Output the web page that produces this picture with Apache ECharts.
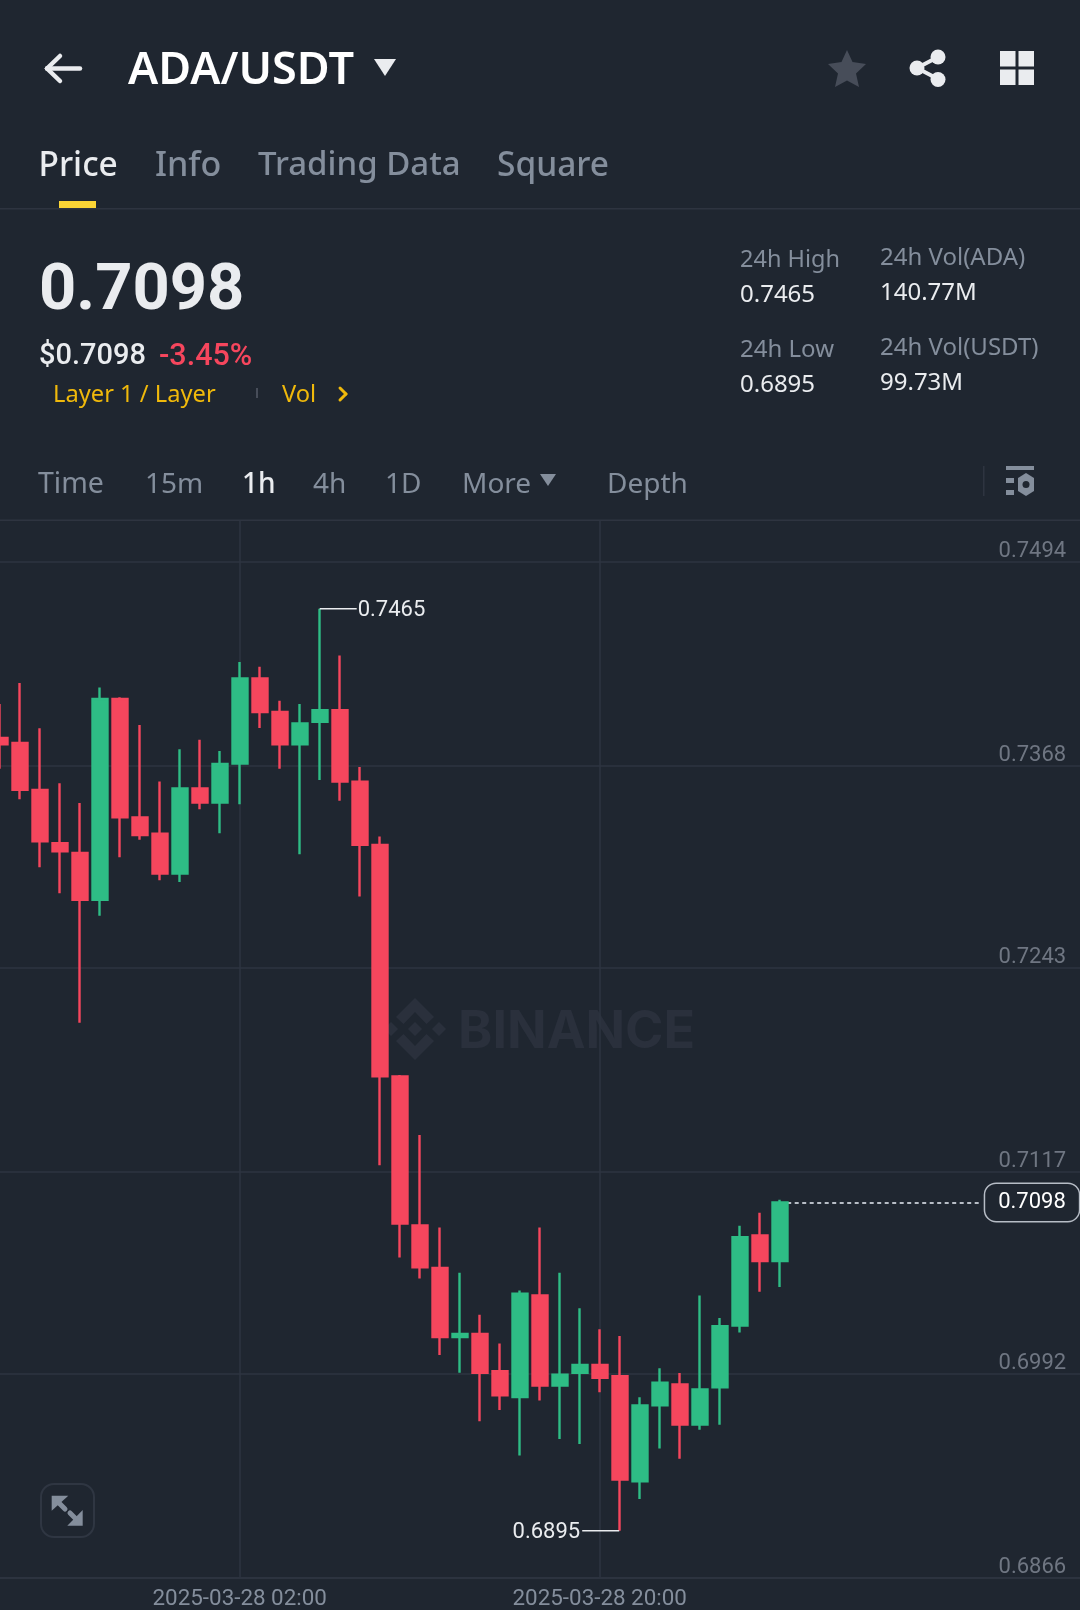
<!DOCTYPE html>
<html>
<head>
<meta charset="utf-8">
<title>ADA/USDT</title>
<script src="https://cdn.jsdelivr.net/npm/echarts@6/dist/echarts.min.js"></script>
<style>
html, body { margin: 0; padding: 0; background: #1f2630; }
#box { width: 1080px; height: 1610px; }
</style>
</head>
<body>
<div id="box"></div>
<script>
// hourly candles, oldest first
var categories = [
    '03-27 14:00', '03-27 15:00', '03-27 16:00', '03-27 17:00', '03-27 18:00', '03-27 19:00', '03-27 20:00', '03-27 21:00',
    '03-27 22:00', '03-27 23:00', '03-28 00:00', '03-28 01:00', '2025-03-28 02:00', '03-28 03:00', '03-28 04:00', '03-28 05:00',
    '03-28 06:00', '03-28 07:00', '03-28 08:00', '03-28 09:00', '03-28 10:00', '03-28 11:00', '03-28 12:00', '03-28 13:00',
    '03-28 14:00', '03-28 15:00', '03-28 16:00', '03-28 17:00', '03-28 18:00', '03-28 19:00', '2025-03-28 20:00', '03-28 21:00',
    '03-28 22:00', '03-28 23:00', '03-29 00:00', '03-29 01:00', '03-29 02:00', '03-29 03:00', '03-29 04:00', '03-29 05:00',
    // empty slots to the right of the last candle
    '03-29 06:00', '03-29 07:00', '03-29 08:00', '03-29 09:00', '03-29 10:00', '03-29 11:00', '03-29 12:00', '03-29 13:00',
    '03-29 14:00', '03-29 15:00', '03-29 16:00', '03-29 17:00', '03-29 18:00', '03-29 19:00', '03-29 20:00', '03-29 21:00'
]
var opens = [
    0.73851, 0.73820, 0.73529, 0.73200, 0.73140, 0.72851, 0.74092, 0.73360,
    0.73259, 0.73012, 0.73539, 0.73451, 0.73692, 0.74219, 0.74011, 0.73811,
    0.73951, 0.74022, 0.73581, 0.73189, 0.71759, 0.70837, 0.70574, 0.70148,
    0.70166, 0.69936, 0.69777, 0.70405, 0.69847, 0.69927, 0.69975, 0.69905,
    0.69256, 0.69725, 0.69855, 0.69606, 0.69837, 0.70218, 0.70776, 0.70617
]
var closes = [
    0.73811, 0.73531, 0.73212, 0.73150, 0.72851, 0.74092, 0.73360, 0.73251,
    0.73012, 0.73539, 0.73451, 0.73690, 0.74219, 0.74011, 0.73811, 0.73941,
    0.74022, 0.73581, 0.73191, 0.71759, 0.70849, 0.70579, 0.70148, 0.70166,
    0.69927, 0.69787, 0.70416, 0.69847, 0.69915, 0.69975, 0.69896, 0.69266,
    0.69725, 0.69866, 0.69606, 0.69824, 0.70214, 0.70764, 0.70617, 0.7098
]
var lows = [
    0.73661, 0.73472, 0.73051, 0.72891, 0.72091, 0.72751, 0.73113, 0.73222,
    0.72971, 0.72961, 0.73410, 0.73261, 0.73441, 0.73912, 0.73661, 0.73132,
    0.73591, 0.73463, 0.72870, 0.71209, 0.70639, 0.70509, 0.70036, 0.69927,
    0.69627, 0.69697, 0.69416, 0.69756, 0.69517, 0.69486, 0.69806, 0.6895,
    0.69147, 0.69458, 0.69396, 0.69575, 0.69606, 0.70175, 0.70428, 0.70457
]
var highs = [
    0.74061, 0.74190, 0.73910, 0.73570, 0.73449, 0.74162, 0.74102, 0.73931,
    0.73581, 0.73781, 0.73840, 0.73770, 0.74320, 0.74291, 0.74081, 0.74061,
    0.7465, 0.74361, 0.73671, 0.73241, 0.71768, 0.71397, 0.70825, 0.70545,
    0.70286, 0.70107, 0.70436, 0.70825, 0.70545, 0.70325, 0.70195, 0.70154,
    0.69775, 0.69954, 0.69925, 0.70405, 0.70265, 0.70836, 0.70916, 0.70996
]
var priceTicks = [0.6866, 0.6992, 0.7117, 0.7243, 0.7368, 0.7494]
var timeTickIndexes = [12, 30]
var highIndex = 16
var lowIndex = 31
var lastIndex = 39
var lastPrice = 0.7098

var bg = '#1f2630'
var line = '#2e3440'
var grey = '#848e9c'
var dim = '#6f7682'
var light = '#eaecef'
var green = '#2ebd85'
var red = '#f6465d'
var yellow = '#f0b90b'
var chartFont = 'Roboto'
var uiFont = '"Noto Sans"'

var candles = opens.map(function (o, i) {
    return [o, closes[i], lows[i], highs[i]]
})

// header bits are plain graphic elements
function text(str, x, y, size, color, weight, family) {
    return {
        type: 'text', x: x, y: y,
        style: {
            text: str, fill: color, fontSize: size, fontWeight: weight || 400,
            fontFamily: family || uiFont, textVerticalAlign: 'middle'
        }
    }
}
function poly(points, color, extra) {
    return Object.assign({ type: 'polygon', shape: { points: points }, style: { fill: color } }, extra || {})
}
function seg(x1, y1, x2, y2, color, width) {
    return {
        type: 'line', shape: { x1: x1, y1: y1, x2: x2, y2: y2 },
        style: { stroke: color, lineWidth: width, lineCap: 'round' }
    }
}
function box(x, y, w, h, color, r) {
    return { type: 'rect', shape: { x: x, y: y, width: w, height: h, r: r || 0 }, style: { fill: color } }
}
function logo(cx, cy, color) {
    var parts = [
        [[0, -7], [7, 0], [0, 7], [-7, 0]],
        [[24, -7], [31, 0], [24, 7], [17, 0]],
        [[-24, -7], [-17, 0], [-24, 7], [-31, 0]],
        [[0, -31], [19, -12], [11.5, -5], [0, -17], [-11.5, -5], [-19, -12]],
        [[0, 31], [19, 12], [11.5, 5], [0, 17], [-11.5, 5], [-19, 12]]
    ]
    return parts.map(function (p) {
        return poly(p.map(function (q) { return [cx + q[0], cy + q[1]] }), color, { z: -1 })
    })
}

var elements = [
    // top bar
    seg(47, 68.5, 80, 68.5, light, 4.5),
    seg(60, 56, 47, 68.5, light, 4.5),
    seg(60, 81, 47, 68.5, light, 4.5),
    text('ADA/USDT', 128, 71, 45, '#ffffff', 600),
    poly([[374, 59], [396, 59], [385, 76]], light),
    poly([[847, 50], [852.5, 62], [866, 64], [856, 73.5], [859, 87], [847, 80.5], [835, 87], [838, 73.5], [828, 64], [841.5, 62]], '#474d59'),
    seg(938, 57, 917, 68, light, 4),
    seg(917, 68, 938, 79, light, 4),
    { type: 'circle', shape: { cx: 938, cy: 57, r: 7.5 }, style: { fill: light } },
    { type: 'circle', shape: { cx: 917, cy: 68, r: 7.5 }, style: { fill: light } },
    { type: 'circle', shape: { cx: 938, cy: 79.5, r: 7.5 }, style: { fill: light } },
    box(1000, 51, 15.5, 15.5, light),
    box(1018.5, 51, 15.5, 15.5, light),
    box(1000, 69.5, 15.5, 15.5, light),
    box(1018.5, 69.5, 15.5, 15.5, light),

    // tabs
    text('Price', 38.5, 166, 33.5, light, 500),
    text('Info', 155, 166, 34, grey, 500),
    text('Trading Data', 258, 166, 33, grey, 500),
    text('Square', 497, 166, 33.5, grey, 500),
    box(59, 201, 37, 7, '#fcd535'),
    box(0, 208, 1080, 1.5, line),

    // price block
    text('0.7098', 39, 293, 65, light, 700, chartFont),
    text('$0.7098', 39, 357, 29, light, 500, chartFont),
    text('-3.45%', 159, 357, 30.5, red, 500, chartFont),
    text('Layer 1 / Layer', 53, 395.5, 23.7, yellow, 400),
    box(256, 388, 2, 10, '#474d59'),
    text('Vol', 282, 395.5, 23.7, yellow, 400),
    seg(340, 388, 346, 394, yellow, 3),
    seg(346, 394, 340, 400, yellow, 3),
    text('24h High', 740, 260, 23.5, grey, 400),
    text('0.7465', 740, 295, 24, light, 400),
    text('24h Vol(ADA)', 880, 258, 24, grey, 400),
    text('140.77M', 880, 293, 24, light, 400),
    text('24h Low', 740, 350, 24, grey, 400),
    text('0.6895', 740, 385, 24, light, 400),
    text('24h Vol(USDT)', 880, 348, 24, grey, 400),
    text('99.73M', 880, 383, 24, light, 400),

    // interval row
    text('Time', 38, 485, 28.5, grey, 400),
    text('15m', 145, 485, 28, grey, 400),
    text('1h', 242, 485, 28, light, 500),
    text('4h', 313, 485, 28, grey, 400),
    text('1D', 385, 485, 28, grey, 400),
    text('More', 462, 485, 28, grey, 400),
    poly([[540, 474], [556, 474], [548, 486]], grey),
    text('Depth', 607, 485, 28, grey, 400),
    box(983, 466, 1.5, 30, line),
    box(1006, 466, 28, 4, grey),
    box(1006, 478, 8, 5, grey),
    box(1006, 490, 8, 5, grey),
    poly([[1026, 473], [1034, 478], [1034, 491], [1026, 496], [1018, 491], [1018, 478]], grey),
    { type: 'circle', shape: { cx: 1026, cy: 484.5, r: 3.5 }, style: { fill: bg } },
    box(0, 519.5, 1080, 1.5, line),

    // watermark
    text('BINANCE', 458, 1032, 52, '#2a303c', 700, 'Inter'),

    // expand button
    {
        type: 'rect', shape: { x: 41, y: 1484, width: 53, height: 53, r: 13 },
        style: { fill: 'none', stroke: '#2f3642', lineWidth: 2 }
    },
    poly([[51.7, 1495.7], [68.3, 1495.7], [51.7, 1510.7]], grey),
    poly([[82.7, 1525.7], [67.3, 1525.7], [82.7, 1510]], grey),
    seg(58, 1502, 65, 1509, grey, 5),
    seg(70, 1513, 76, 1519, grey, 5)
].concat(logo(415, 1029, '#2a303c'))

var chart = echarts.init(document.getElementById('box'))

chart.setOption({
    animation: false,
    backgroundColor: bg,
    grid: { left: -0.3, top: 520, width: 1100, height: 1057.7, outerBoundsMode: 'none' },
    graphic: { elements: elements },
    xAxis: {
        type: 'category',
        data: categories,
        boundaryGap: false,
        axisLine: { lineStyle: { color: line, width: 1.5 } },
        axisTick: { show: false },
        axisLabel: {
            color: grey, fontFamily: chartFont, fontSize: 22.4, margin: 11,
            interval: function (i) { return timeTickIndexes.indexOf(i) >= 0 }
        },
        splitLine: {
            show: true,
            interval: function (i) { return timeTickIndexes.indexOf(i) >= 0 },
            lineStyle: { color: line, width: 1.5 }
        }
    },
    yAxis: {
        type: 'value',
        position: 'right',
        min: 0.6866,
        max: 0.75198,
        axisLine: { show: false },
        axisTick: { show: false, customValues: priceTicks },
        axisLabel: {
            inside: true, customValues: priceTicks, margin: 33.5,
            color: dim, fontFamily: chartFont, fontSize: 22, verticalAlign: 'bottom', lineHeight: 21,
            formatter: function (v) { return v.toFixed(4) }
        },
        splitLine: { show: true, lineStyle: { color: line, width: 1.5 } }
    },
    series: [{
        type: 'candlestick',
        z: 2,
        data: candles,
        barWidth: 15.6,
        itemStyle: { color: green, color0: red, borderColor: green, borderColor0: red, borderWidth: 2.4 },
        markLine: {
            z: 1,
            silent: true,
            symbol: 'none',
            label: { show: false },
            lineStyle: { color: '#b7bdc6', type: [4, 3.5], width: 1.8 },
            data: [[
                { xAxis: categories[lastIndex], yAxis: lastPrice },
                { xAxis: categories[lastIndex + 10], yAxis: lastPrice }
            ]]
        },
        markPoint: {
            silent: true,
            data: [{
                coord: [categories[highIndex], highs[highIndex]],
                symbol: 'rect', symbolSize: [37, 1.5], symbolOffset: [18.5, 0],
                itemStyle: { color: light },
                label: {
                    show: true, position: 'right', distance: 1, offset: [0, 1.5], formatter: highs[highIndex].toFixed(4),
                    color: light, fontFamily: chartFont, fontSize: 22
                }
            }, {
                coord: [categories[lowIndex], lows[lowIndex]],
                symbol: 'rect', symbolSize: [37, 1.5], symbolOffset: [-19, 0],
                itemStyle: { color: light },
                label: {
                    show: true, position: 'left', distance: 2, offset: [0, 1.5], formatter: lows[lowIndex].toFixed(4),
                    color: light, fontFamily: chartFont, fontSize: 22
                }
            }, {
                coord: [categories[lastIndex + 10], lastPrice],
                symbol: 'rect', symbolSize: [1, 1], itemStyle: { color: 'rgba(0,0,0,0)' },
                label: {
                    show: true, position: 'right', distance: 5, formatter: lastPrice.toFixed(4),
                    color: '#ffffff', fontFamily: chartFont, fontSize: 22,
                    backgroundColor: bg, borderColor: '#b7bdc6', borderWidth: 1.5, borderRadius: 11,
                    padding: [8, 13, 7, 13]
                }
            }]
        }
    }]
})
</script>
</body>
</html>
